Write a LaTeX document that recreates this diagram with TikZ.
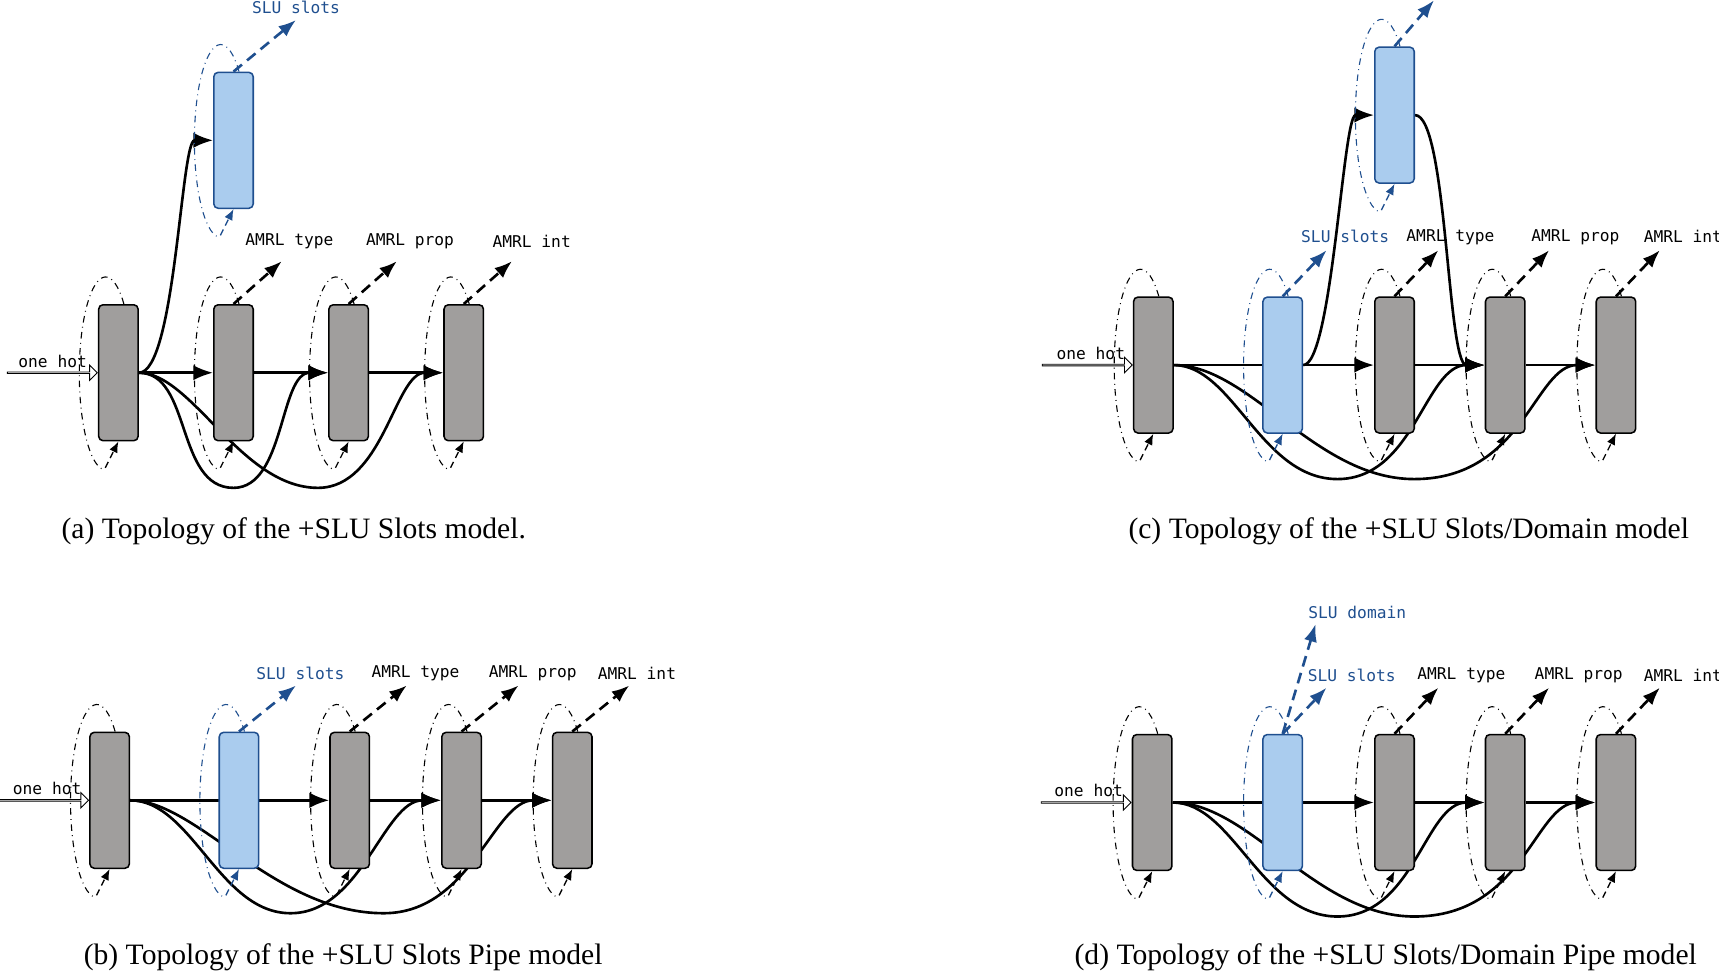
\documentclass[tikz,border=0pt]{standalone}
\usepackage{fontspec}
\setmainfont{Liberation Serif}
\newfontfamily\lblfont{DejaVu Sans Mono}
\usetikzlibrary{arrows.meta,calc,shapes.arrows}
\definecolor{boxgray}{RGB}{160,158,157}
\definecolor{boxblue}{RGB}{170,204,238}
\definecolor{bluedark}{RGB}{31,79,143}
\pgfdeclarelayer{bg}
\pgfsetlayers{bg,main}
\tikzset{
 gbox/.style={draw=black, line width=0.7pt, fill=boxgray, rounded corners=2pt, minimum width=18pt, minimum height=62pt, inner sep=0pt},
 bbox/.style={gbox, draw=bluedark, fill=boxblue},
 conn/.style={line width=1.2pt,-{Latex[length=9pt,width=7pt]}},
 outarr/.style={line width=1.2pt, dash pattern=on 5pt off 3pt, -{Latex[length=8pt,width=6pt]}},
 loopline/.style={dash dot, line width=0.5pt},
 lbl/.style={font=\lblfont\fontsize{7.4}{9}\selectfont, inner sep=0pt},
 captext/.style={font=\fontsize{13.5}{16}\selectfont, inner sep=0pt},
 inarr/.style={single arrow, draw, fill=white, line width=0.4pt, minimum height=41pt, minimum width=7pt, single arrow head extend=1.8pt, single arrow head indent=0pt, inner sep=0pt, anchor=east, shape border rotate=0}
}
\newcommand\selfloop[2]{%
 \draw[loopline,#2] ($(#1.north)+(5,0)$) arc[start angle=-46,end angle=-270,x radius=24,y radius=88];
 \draw[line width=0.6pt,dash pattern=on 3pt off 2pt,-{Latex[length=5pt,width=4pt]},#2] ($(#1.south)+(-12,24)$) -- (#1.south);}
\begin{document}
\begin{tikzpicture}[x=0.5pt,y=-0.5pt]
\useasboundingbox (0,0) rectangle (1568,887);
% ===== (a)
\node[gbox] (a1) at (108,340) {};
\node[gbox] (a2) at (213,340) {};
\node[gbox] (a3) at (318,340) {};
\node[gbox] (a4) at (423,340) {};
\node[bbox] (as) at (213,128) {};
\node[inarr] (ain) at (a1.west) {};
\node[lbl] (ainl) at (48,330) {one hot};
\node[lbl,text=bluedark] (asl) at (270,7) {SLU slots};
\node[lbl] (a2l) at (264,220) {AMRL type};
\node[lbl] (a3l) at (374,220) {AMRL prop};
\node[lbl] (a4l) at (485,220) {AMRL int};
\draw[outarr,bluedark] (as.north) -- ++(57,-47);
\draw[outarr] (a2.north) -- ++(44,-39);
\draw[outarr] (a3.north) -- ++(44,-39);
\draw[outarr] (a4.north) -- ++(44,-39);
\selfloop{a1}{black}\selfloop{a2}{black}\selfloop{a3}{black}\selfloop{a4}{black}
\selfloop{as}{bluedark}
\begin{pgfonlayer}{bg}
\draw[conn] (a1.east) -- (a2.west);
\draw[conn] (a2.east) -- (a3.west);
\draw[conn] (a3.east) -- (a4.west);
\draw[conn] (a1.east) .. controls (160,340) and (165,128) .. (as.west);
\draw[conn] (a1.east) .. controls (175,340) and (160,445) .. (213,445) .. controls (260,445) and (255,340) .. (a3.west);
\draw[conn] (a1.east) .. controls (175,340) and (220,445) .. (290,445) .. controls (350,445) and (360,340) .. (a4.west);
\end{pgfonlayer}
\node[captext] (acap) at (268,485) {(a) Topology of the +SLU Slots model.};
% ===== (b)
\node[gbox] (b1) at (100,730) {};
\node[bbox] (b2) at (218,730) {};
\node[gbox] (b3) at (319,730) {};
\node[gbox] (b4) at (421,730) {};
\node[gbox] (b5) at (522,730) {};
\node[inarr] (bin) at (b1.west) {};
\node[lbl] (binl) at (43,719) {one hot};
\node[lbl,text=bluedark] (b2l) at (274,614) {SLU slots};
\node[lbl] (b3l) at (379,614) {AMRL type};
\node[lbl] (b4l) at (486,614) {AMRL prop};
\node[lbl] (b5l) at (581,614) {AMRL int};
\draw[outarr,bluedark] (b2.north) -- ++(52,-42);
\draw[outarr] (b3.north) -- ++(52,-42);
\draw[outarr] (b4.north) -- ++(52,-42);
\draw[outarr] (b5.north) -- ++(52,-42);
\selfloop{b1}{black}\selfloop{b2}{bluedark}\selfloop{b3}{black}\selfloop{b4}{black}\selfloop{b5}{black}
\begin{pgfonlayer}{bg}
\draw[conn] (b1.east) -- (b3.west);
\draw[conn] (b3.east) -- (b4.west);
\draw[conn] (b4.east) -- (b5.west);
\draw[conn] (b1.east) .. controls (175,730) and (200,833) .. (265,833) .. controls (330,833) and (350,730) .. (b4.west);
\draw[conn] (b1.east) .. controls (180,730) and (250,833) .. (350,833) .. controls (430,833) and (450,730) .. (b5.west);
\end{pgfonlayer}
\node[captext] (bcap) at (313,873) {(b) Topology of the +SLU Slots Pipe model};
% ===== (c)
\node[gbox] (c1) at (1052,333) {};
\node[bbox] (c2) at (1170,333) {};
\node[gbox] (c3) at (1272,333) {};
\node[gbox] (c4) at (1373,333) {};
\node[gbox] (c5) at (1474,333) {};
\node[bbox] (cd) at (1272,105) {};
\node[inarr] (cin) at (c1.west) {};
\node[lbl] (cinl) at (995,322) {one hot};
\node[lbl,text=bluedark] (c2l) at (1227,216) {SLU slots};
\node[lbl] (c3l) at (1323,216) {AMRL type};
\node[lbl] (c4l) at (1437,216) {AMRL prop};
\node[lbl] (c5l) at (1535,216) {AMRL int};
\draw[outarr,bluedark] (cd.north) -- ++(36,-42);
\draw[outarr,bluedark] (c2.north) -- ++(40,-42);
\draw[outarr] (c3.north) -- ++(40,-42);
\draw[outarr] (c4.north) -- ++(40,-42);
\draw[outarr] (c5.north) -- ++(40,-42);
\selfloop{c1}{black}\selfloop{c2}{bluedark}\selfloop{c3}{black}\selfloop{c4}{black}\selfloop{c5}{black}
\selfloop{cd}{bluedark}
\begin{pgfonlayer}{bg}
\draw[conn] (c1.east) -- (c3.west);
\draw[conn] (c3.east) -- (c4.west);
\draw[conn] (c4.east) -- (c5.west);
\draw[conn] (c2.east) .. controls (1215,333) and (1225,105) .. (cd.west);
\draw[conn] (cd.east) .. controls (1320,105) and (1320,333) .. (c4.west);
\draw[conn] (c1.east) .. controls (1125,333) and (1150,437) .. (1220,437) .. controls (1290,437) and (1300,333) .. (c4.west);
\draw[conn] (c1.east) .. controls (1140,333) and (1200,437) .. (1290,437) .. controls (1390,437) and (1400,333) .. (c5.west);
\end{pgfonlayer}
\node[captext] (ccap) at (1285,485) {(c) Topology of the +SLU Slots/Domain model};
% ===== (d)
\node[gbox] (d1) at (1051,732) {};
\node[bbox] (d2) at (1170,732) {};
\node[gbox] (d3) at (1272,732) {};
\node[gbox] (d4) at (1373,732) {};
\node[gbox] (d5) at (1474,732) {};
\node[inarr] (din) at (d1.west) {};
\node[lbl] (dinl) at (993,721) {one hot};
\node[lbl,text=bluedark] (ddl) at (1238,559) {SLU domain};
\node[lbl,text=bluedark] (d2l) at (1233,616) {SLU slots};
\node[lbl] (d3l) at (1333,616) {AMRL type};
\node[lbl] (d4l) at (1440,616) {AMRL prop};
\node[lbl] (d5l) at (1535,616) {AMRL int};
\draw[outarr,bluedark] (d2.north) -- ++(30,-100);
\draw[outarr,bluedark] (d2.north) -- ++(40,-42);
\draw[outarr] (d3.north) -- ++(40,-42);
\draw[outarr] (d4.north) -- ++(40,-42);
\draw[outarr] (d5.north) -- ++(40,-42);
\selfloop{d1}{black}\selfloop{d2}{bluedark}\selfloop{d3}{black}\selfloop{d4}{black}\selfloop{d5}{black}
\begin{pgfonlayer}{bg}
\draw[conn] (d1.east) -- (d3.west);
\draw[conn] (d3.east) -- (d4.west);
\draw[conn] (d4.east) -- (d5.west);
\draw[conn] (d1.east) .. controls (1125,732) and (1150,836) .. (1220,836) .. controls (1290,836) and (1300,732) .. (d4.west);
\draw[conn] (d1.east) .. controls (1140,732) and (1200,836) .. (1290,836) .. controls (1390,836) and (1400,732) .. (d5.west);
\end{pgfonlayer}
\node[captext] (dcap) at (1264,873) {(d) Topology of the +SLU Slots/Domain Pipe model};
\end{tikzpicture}
\end{document}
